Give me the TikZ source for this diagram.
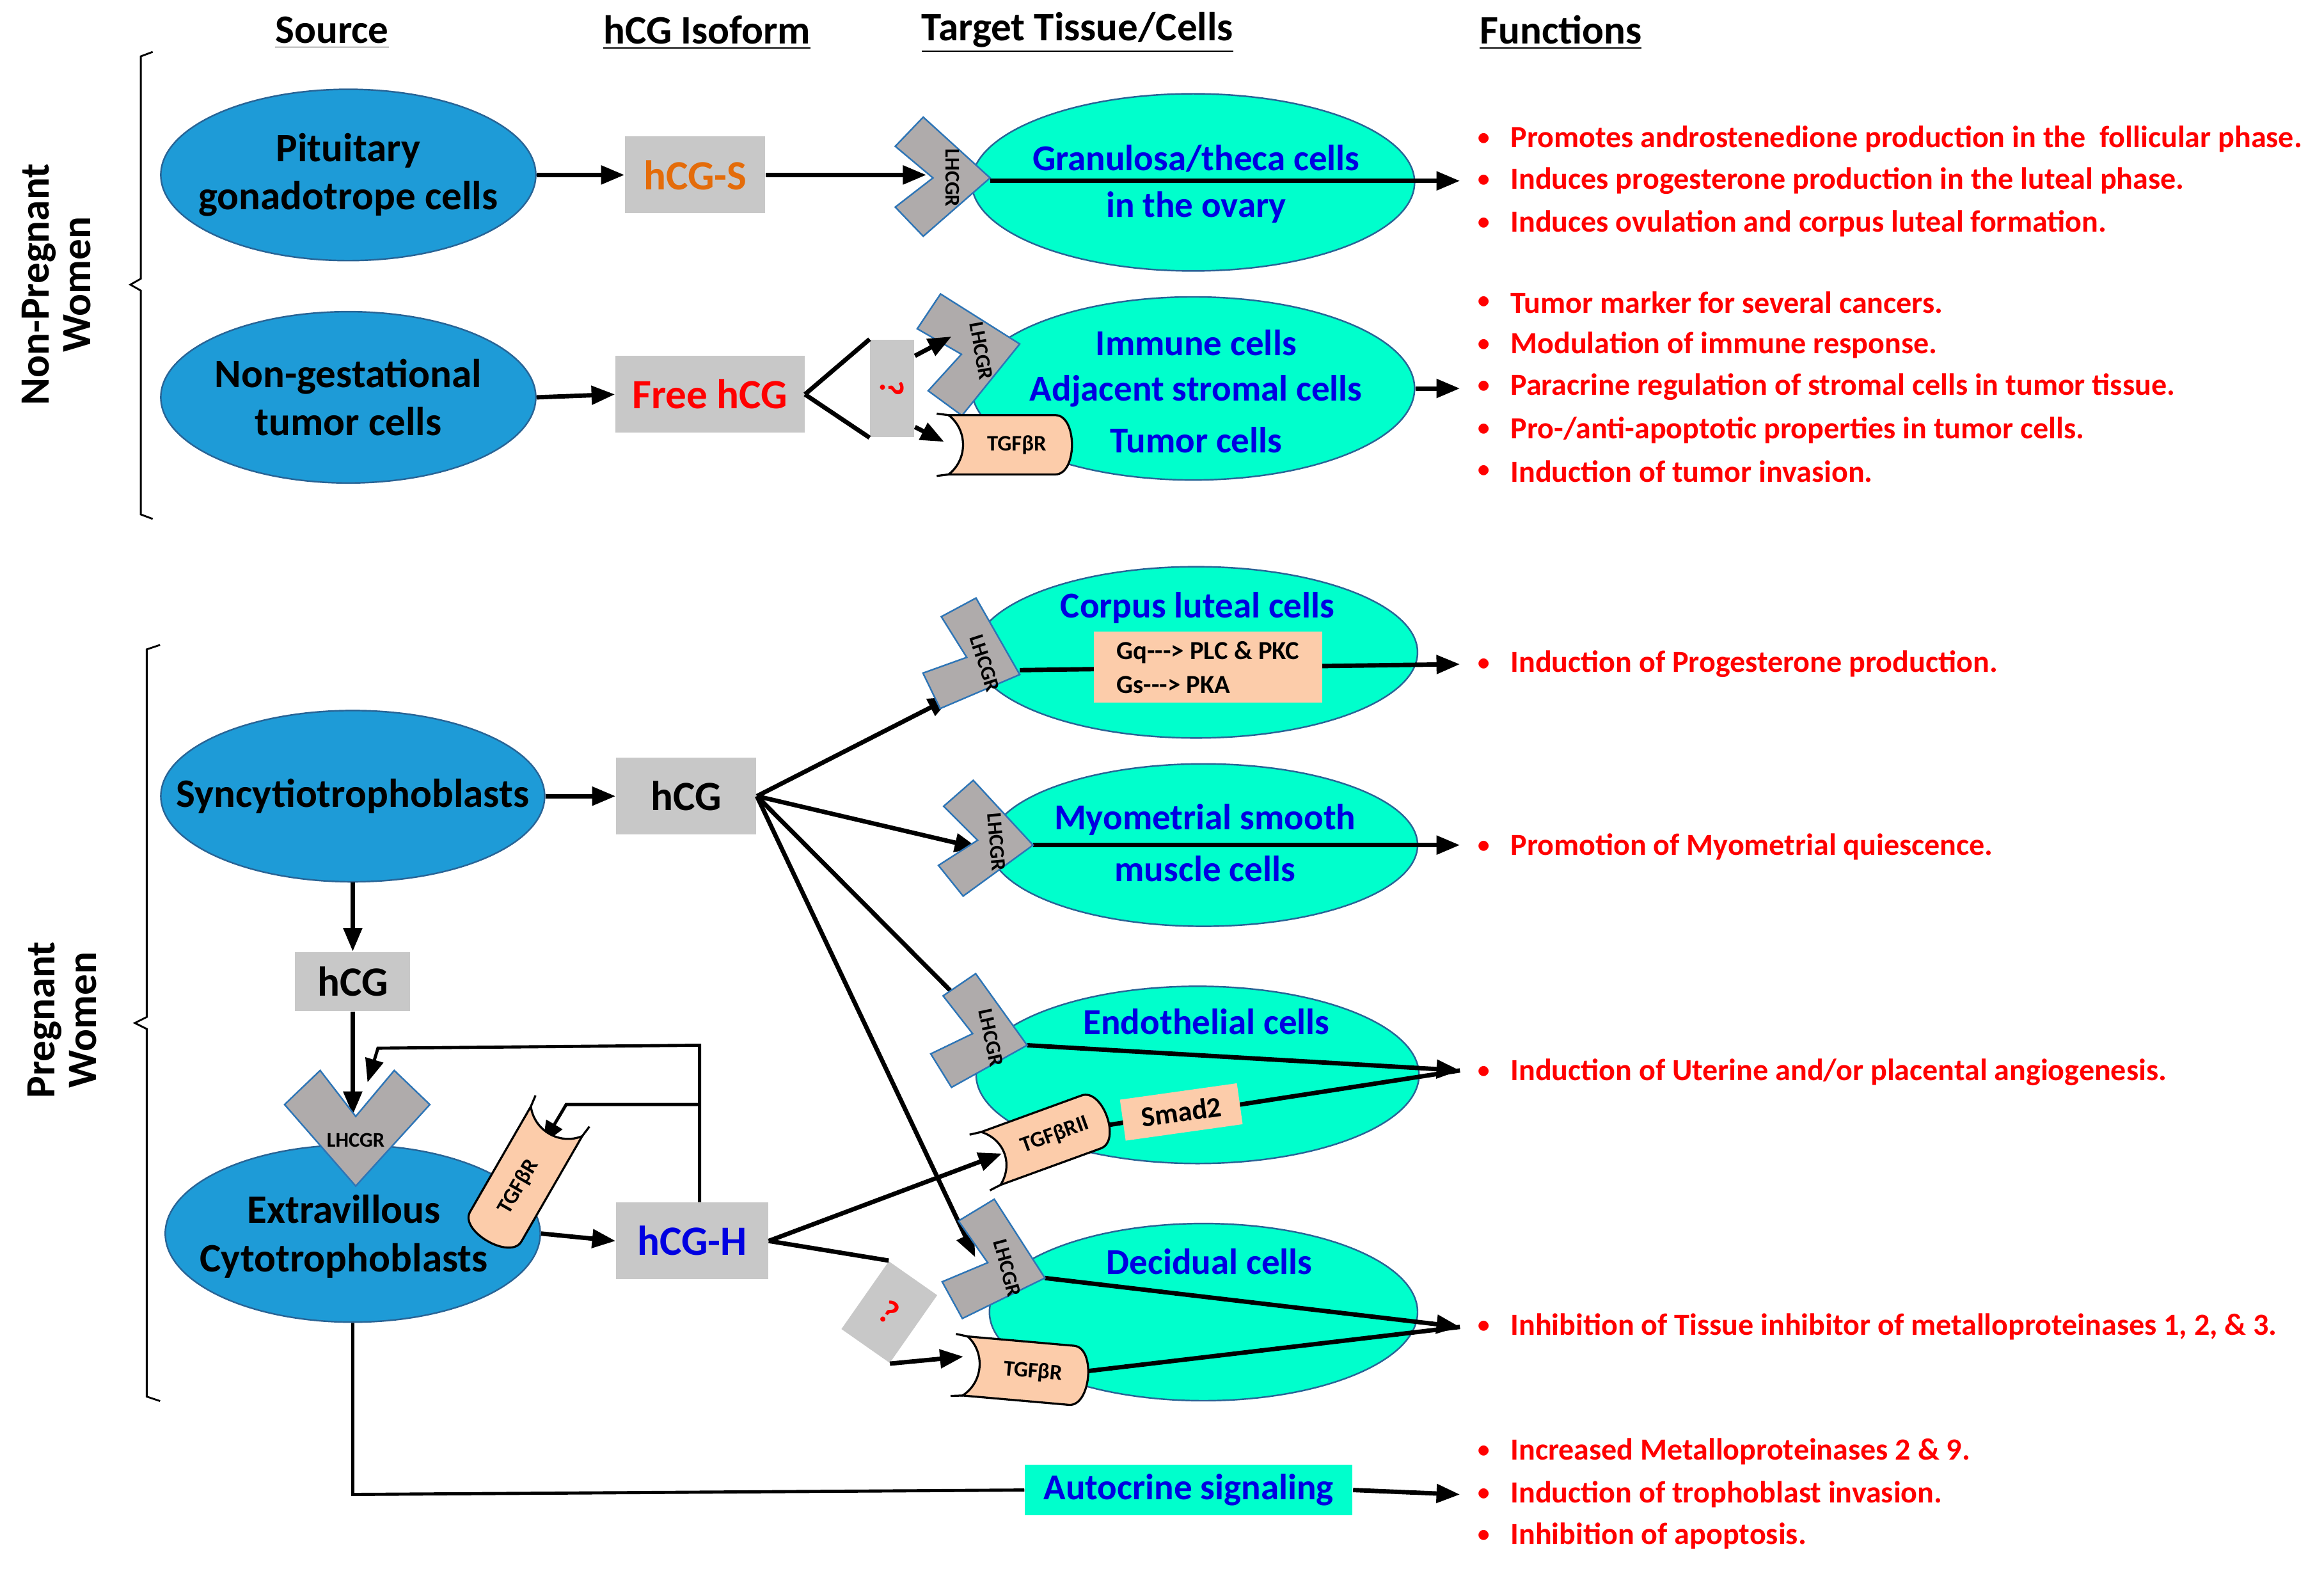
\documentclass[tikz,border=0pt]{standalone}
\usepackage{fontspec}
\setmainfont{Carlito}
\usetikzlibrary{arrows.meta,shapes.geometric}
\definecolor{dblue}{RGB}{30,155,215}
\definecolor{dbord}{RGB}{40,100,150}
\definecolor{teal2}{RGB}{0,255,204}
\definecolor{greyb}{RGB}{200,200,200}
\definecolor{peach}{RGB}{252,204,170}
\definecolor{chevg}{RGB}{175,171,171}
\definecolor{chevb}{RGB}{46,117,182}
\definecolor{fred}{RGB}{255,0,0}
\definecolor{fblue}{RGB}{0,0,225}
\definecolor{forange}{RGB}{228,108,10}
\def\U{0.5669pt}
\newcommand\fs[1]{\fontsize{#1}{#1}\selectfont}
\newcommand\chev[6]{%
\begin{scope}[shift={(#2,#3)},rotate=#4,scale=#5]
\draw[chevs] (0,0)--(50,-55)--(26,-78)--(0,-47)--(-24,-78)--(-48,-55)--cycle;
\coordinate (#1) at (0,0);
\node[font=\fs{8}\bfseries,rotate=#6] at (0,-31) {LHCGR};
\end{scope}}
\newcommand\tgf[6]{%
\begin{scope}[shift={(#2,#3)},rotate=#4]
\draw[fill=peach,line width=0.8pt] (-#6,-20) .. controls (-#6+13,-10) and (-#6+13,10) .. (-#6,20) -- (#6-12,20) .. controls (#6+3,20) and (#6+3,-20) .. (#6-12,-20) -- cycle;
\draw[line width=0.8pt] (-#6,-20) -- (-#6-8,-21) (-#6,20) -- (-#6-8,21);
\coordinate (#1) at (-#6+8,0);
\node[font=\fs{8.5}\bfseries,rotate=#5] at (4,0) {TGFβR};
\end{scope}}
\tikzset{
 chevs/.style={fill=chevg,draw=chevb,line width=0.6pt},
 src/.style={ellipse,fill=dblue,draw=dbord,line width=0.6pt,minimum width=254*\U,minimum height=116*\U,inner sep=0pt},
 srct/.style={align=center,font=\fs{15.5}\bfseries},
 tgt/.style={ellipse,fill=teal2,draw=dbord,line width=0.6pt,inner sep=0pt},
 gbox/.style={fill=greyb,minimum height=52*\U,minimum width=95*\U,font=\fs{16}\bfseries,inner sep=0pt},
 hdr/.style={font=\fs{15.5}\bfseries},
 blu/.style={text=fblue,font=\fs{14}\bfseries},
 fn/.style={text=fred,font=\fs{11.8}\bfseries,anchor=west},
 bul/.style={text=fred,font=\fs{10}},
 ar/.style={line width=1.7pt,-{Triangle[length=9pt,width=7pt]}},
 ln/.style={line width=1.7pt},
}
\begin{document}
\begin{tikzpicture}[x=0.02cm,y=-0.02cm]
\useasboundingbox (0,0) rectangle (1568,1058);
% headers
\node[hdr] at (224,22) {\underline{Source}};
\node[hdr] at (477,22) {\underline{hCG Isoform}};
\node[hdr] at (727,22) {\underline{Target Tissue/Cells}};
\node[hdr] at (1053,22) {\underline{Functions}};
% brackets
\draw[line width=0.7pt] (103,35)--(95,38)--(95,188)--(88,192)--(95,196)--(95,347)--(103,350);
\draw[line width=0.7pt] (108,435)--(99,438)--(99,686)--(91,690)--(99,694)--(99,942)--(108,945);
\node[rotate=90,align=center,font=\fs{16}\bfseries] (np) at (38,192) {Non-Pregnant\\Women};
\node[rotate=90,align=center,font=\fs{16}\bfseries] (pw) at (42,688) {Pregnant\\Women};
% source ellipses
\node[src] (pit) at (235,118) {};
\node[srct] at (235,118) {Pituitary\\[3pt]gonadotrope cells};
\node[src] (ngt) at (235,268) {};
\node[srct] at (235,268) {Non-gestational\\[3pt]tumor cells};
\node[src,minimum width=260*\U] (syn) at (238,537) {};
\node[srct] at (238,537) {Syncytiotrophoblasts};
\node[src,minimum height=120*\U] (evt) at (238,832) {};
\node[srct] at (232,834) {Extravillous\\[3pt]Cytotrophoblasts};
% target ellipses
\node[tgt,minimum width=300*\U,minimum height=120*\U] (gra) at (805,123) {};
\node[tgt,minimum width=300*\U,minimum height=124*\U] (imm) at (805,262) {};
\node[tgt,minimum width=300*\U,minimum height=116*\U] (cor) at (807,440) {};
\node[tgt,minimum width=290*\U,minimum height=110*\U] (myo) at (812,570) {};
\node[tgt,minimum width=300*\U,minimum height=120*\U] (end) at (808,725) {};
\node[tgt,minimum width=290*\U,minimum height=120*\U] (dec) at (812,885) {};
% grey boxes
\node[gbox,text=forange] (hs) at (469,118) {hCG-S};
\node[gbox,text=fred,minimum width=128*\U] (fh) at (479,266) {Free hCG};
\node[fill=greyb,minimum width=30*\U,minimum height=66*\U,inner sep=0pt,text=fred,font=\fs{13}\bfseries] (q1) at (602,262) {\rotatebox{-90}{?}};
\node[gbox] (hcg) at (463,537) {hCG};
\node[gbox,minimum width=78*\U,minimum height=40*\U] (hcg2) at (238,662) {hCG};
\node[gbox,text=fblue,minimum width=103*\U] (hh) at (467,837) {hCG-H};
\node[fill=greyb,minimum width=40*\U,minimum height=56*\U,inner sep=0pt,rotate=-35,text=fred,font=\fs{13}\bfseries] (q2) at (600,885) {?};
\node[fill=teal2,minimum width=222*\U,minimum height=34*\U,inner sep=0pt,blu] (aut) at (802,1005) {Autocrine signaling};
% connector lines (behind receptors)
\coordinate (gx) at (985,122);
\coordinate (ix) at (985,262);
\coordinate (cx) at (985,448);
\coordinate (mx) at (985,570);
\coordinate (ex) at (985,722);
\coordinate (dx) at (985,895);
\coordinate (ax) at (985,1008);
\draw[ar] (pit) -- (hs);
\draw[ar] (hs) -- (625,118);
\draw[ar] (668,122) -- (gx);
\draw[ar] (ngt.east) -- (fh.west);
\draw[ln] (fh.east) -- (q1.north west) (fh.east) -- (q1.south west);
\draw[ar] (imm.east) -- (ix);
\draw[ar] (syn) -- (hcg);
\draw[ar] (hcg.east) -- (642,470);
\draw[ar] (hcg.east) -- (660,572);
\draw[ar] (hcg.east) -- (655,682);
\draw[ar] (hcg.east) -- (658,848);
\draw[ar] (688,452) -- (cx);
\draw[ar] (697,570) -- (mx);
\draw[ar] (693,705) -- (ex);
\draw[ln] (740,760) -- (ex);
\draw[ar] (705,862) -- (dx);
\draw[ln] (732,925) -- (dx);
\draw[ar] (syn.south) -- (hcg2.north);
\draw[ar] (hcg2.south) -- (238,752);
\draw[line width=1.2pt,-{Triangle[length=9pt,width=7pt]}] (hh.north -| 472,0) -- (472,705) -- (255,707) -- (248,730);
\draw[line width=1.2pt,-{Triangle[length=9pt,width=7pt]}] (472,745) -- (382,745) -- (366,772);
\draw[ar] (evt.east) -- (hh.west);
\draw[ar] (hh.east) -- (676,778);
\draw[ln] (hh.east) -- (q2.north west);
\draw[ar] (q2.south east) -- (650,915);
\draw[line width=1.2pt] (evt.south) -- (238,1008) -- (aut.west);
\draw[ar] (aut.east) -- (ax);
% receptors
\chev{r1}{668}{120}{90}{0.82}{-90}
\chev{r2}{688}{232}{100}{0.85}{-80}
\chev{r3}{688}{455}{72}{0.8}{-72}
\chev{r4}{697}{570}{85}{0.8}{-85}
\chev{r5}{693}{705}{78}{0.8}{-78}
\chev{r6}{705}{862}{75}{0.85}{-75}
\chev{r7}{240}{800}{0}{1.0}{0}
\draw[ar] (q1.east |- 240,240) -- (642,227);
\draw[ar] (q1.east |- 288,288) -- (637,298);
\tgf{t1}{682}{300}{0}{0}{42}
\tgf{t2}{352}{797}{-120}{60}{47}
\tgf{t4}{693}{925}{-5}{-5}{42}
\begin{scope}[shift={(708,767)},rotate=20]
\draw[fill=peach,line width=0.8pt] (-42,-19) .. controls (-29,-9) and (-29,9) .. (-42,19) -- (30,19) .. controls (45,19) and (45,-19) .. (30,-19) -- cycle;
\draw[line width=0.8pt] (-42,-19) -- (-50,-20) (-42,19) -- (-50,20);
\node[font=\fs{8.5}\bfseries,rotate=20] at (4,0) {TGFβRII};
\end{scope}
% inner labels
\node[blu] at (807,107) {Granulosa/theca cells};
\node[blu] at (807,140) {in the ovary};
\node[blu] at (807,231) {Immune cells};
\node[blu] at (807,264) {Adjacent stromal cells};
\node[blu] at (807,297) {Tumor cells};
\node[blu] at (808,410) {Corpus luteal cells};
\node[fill=peach,minimum width=155*\U,minimum height=48*\U,inner sep=0pt,align=left,font=\fs{10}\bfseries] (gq) at (815,450) {Gq{-}{-}{-}> PLC \& PKC\\[3pt]Gs{-}{-}{-}> PKA};
\node[blu] at (813,553) {Myometrial smooth};
\node[blu] at (813,586) {muscle cells};
\node[blu] at (814,689) {Endothelial cells};
\node[fill=peach,minimum width=80*\U,minimum height=28*\U,inner sep=0pt,rotate=8,font=\fs{11}\bfseries] (sm) at (797,750) {Smad2};
\node[blu] at (816,851) {Decidual cells};
% functions
\foreach \y/\t in {94/{Promotes androstenedione production in the \ follicular phase.},
 122/{Induces progesterone production in the luteal phase.},
 151/{Induces ovulation and corpus luteal formation.},
 204/{Tumor marker for several cancers.},
 233/{Modulation of immune response.},
 261/{Paracrine regulation of stromal cells in tumor tissue.},
 290/{Pro-/anti-apoptotic properties in tumor cells.},
 318/{Induction of tumor invasion.},
 448/{Induction of Progesterone production.},
 571/{Promotion of Myometrial quiescence.},
 723/{Induction of Uterine and/or placental angiogenesis.},
 895/{Inhibition of Tissue inhibitor of metalloproteinases 1, 2, \& 3.},
 979/{Increased Metalloproteinases 2 \& 9.},
 1008/{Induction of trophoblast invasion.},
 1036/{Inhibition of apoptosis.}}
{\node[bul] at (1001,\y) {$\bullet$}; \node[fn] at (1013,\y) {\t};}
\end{tikzpicture}
\end{document}
